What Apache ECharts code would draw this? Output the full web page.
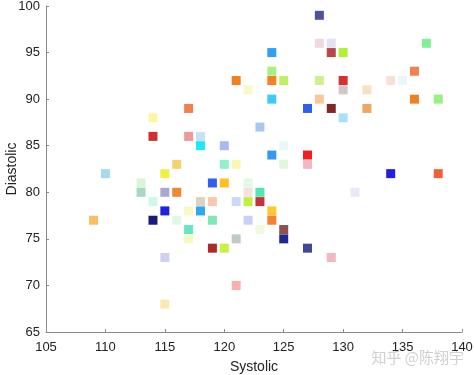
<!DOCTYPE html>
<html>
<head>
<meta charset="utf-8">
<script src="https://cdn.jsdelivr.net/npm/echarts@6/dist/echarts.min.js"></script>
<style>html,body{margin:0;padding:0;background:#fff;}#c{width:474px;height:375px;}</style>
</head>
<body>
<div id="c"></div>
<script>
const systolic = [109,110,113,113,114,114,114,114,115,115,115,115,115,116,116,116,117,117,117,117,117,118,118,118,118,119,119,119,119,120,120,120,120,121,121,121,121,121,122,122,122,122,122,123,123,123,123,124,124,124,124,124,124,124,125,125,125,125,125,127,127,127,127,128,128,128,128,129,129,129,129,130,130,130,130,131,132,132,134,134,135,136,136,137,138,138];
const diastolic = [77,82,81,80,88,86,79,77,82,80,78,73,68,83,80,77,89,86,78,76,75,86,85,79,78,81,79,77,74,85,83,81,74,92,83,79,75,70,91,81,80,79,77,87,80,79,76,95,93,92,90,84,78,77,92,85,83,76,75,89,84,83,74,99,96,92,90,96,95,89,73,95,92,91,88,80,91,89,92,82,92,93,90,96,90,82];
const pointColors = ['#f5c060','#a8d8f0','#d8f5d8','#a8d8c0','#fff5a0','#d03030','#d0f8e8','#1a1a80','#f0f040','#a8a8d0','#2020e0','#d0d0f5','#fde8b0','#f8d070','#f08830','#e0f8e8','#f08050','#f09898','#f8f8c8','#60e8c0','#f8f8c0','#c8e0f8','#20e8f8','#e0d0c0','#30a8f0','#3060f0','#f8c8b0','#80e8b0','#b02828','#a8b8f0','#90f0d0','#ffc020','#c8f040','#f08020','#f8f8b0','#c8d8f8','#c0c8c8','#f8b0a8','#f8f8c8','#e0f8e8','#f8e0e0','#c0f040','#c8d0f8','#a8c8f0','#50e8b0','#c83040','#f0f8e0','#30a0f0','#a8f080','#f88020','#40c8f8','#3898f0','#ffc830','#f88030','#c0f060','#e8f8f8','#e0f8d8','#905050','#202890','#3060e8','#f02020','#f0b8c0','#404898','#5050a0','#f0d8e0','#d0f090','#f8c898','#e0e0f8','#b84848','#802828','#f0b8c0','#b0f030','#d83030','#d0c8c8','#a8e0f8','#e8e8f8','#f8e0c0','#f0a860','#f8e0d8','#2020e0','#e8f8f8','#f08050','#f08020','#80f098','#98f080','#f06038'];
const xTicks = [105,110,115,120,125,130,135,140];
const yTicks = [65,70,75,80,85,90,95,100];
const xName = 'Systolic';
const yName = 'Diastolic';
const watermark = '知乎 @陈翔宇';

const points = systolic.map((x, i) => ({ value: [x, diastolic[i]], itemStyle: { color: pointColors[i], opacity: 1 } }));

const axisCommon = {
  splitLine: { show: false },
  axisLine: { show: true, lineStyle: { color: '#8a8a8a', width: 1 } },
  axisTick: { show: true, inside: true, length: 3, lineStyle: { color: '#8a8a8a' } },
  nameTextStyle: { color: '#222', fontSize: 14, fontFamily: 'Liberation Sans' },
  nameLocation: 'middle',
  nameMoveOverlap: false
};

const chart = echarts.init(document.getElementById('c'), null, { renderer: 'canvas' });
chart.setOption({
  animation: false,
  backgroundColor: '#fff',
  grid: { left: 46, right: 12, top: 6, bottom: 43, containLabel: false, outerBoundsMode: 'none' },
  xAxis: Object.assign({}, axisCommon, {
    type: 'value', min: xTicks[0], max: xTicks[xTicks.length - 1], interval: 5,
    name: xName, nameGap: 28,
    axisLabel: { color: '#222', fontSize: 13, fontFamily: 'Liberation Sans', margin: 9 }
  }),
  yAxis: Object.assign({}, axisCommon, {
    type: 'value', min: yTicks[0], max: yTicks[yTicks.length - 1], interval: 5,
    name: yName, nameGap: 27,
    axisLabel: { color: '#222', fontSize: 13, fontFamily: 'Liberation Sans', margin: 6 }
  }),
  graphic: [{
    type: 'text', right: 10, bottom: 10,
    style: { text: watermark, fill: 'rgba(170,170,170,0.55)', fontSize: 15, fontFamily: 'Noto Sans CJK SC' }
  }],
  series: [{
    type: 'scatter',
    symbol: 'rect',
    symbolSize: 9,
    itemStyle: { opacity: 1 },
    data: points
  }]
});
</script>
</body>
</html>
